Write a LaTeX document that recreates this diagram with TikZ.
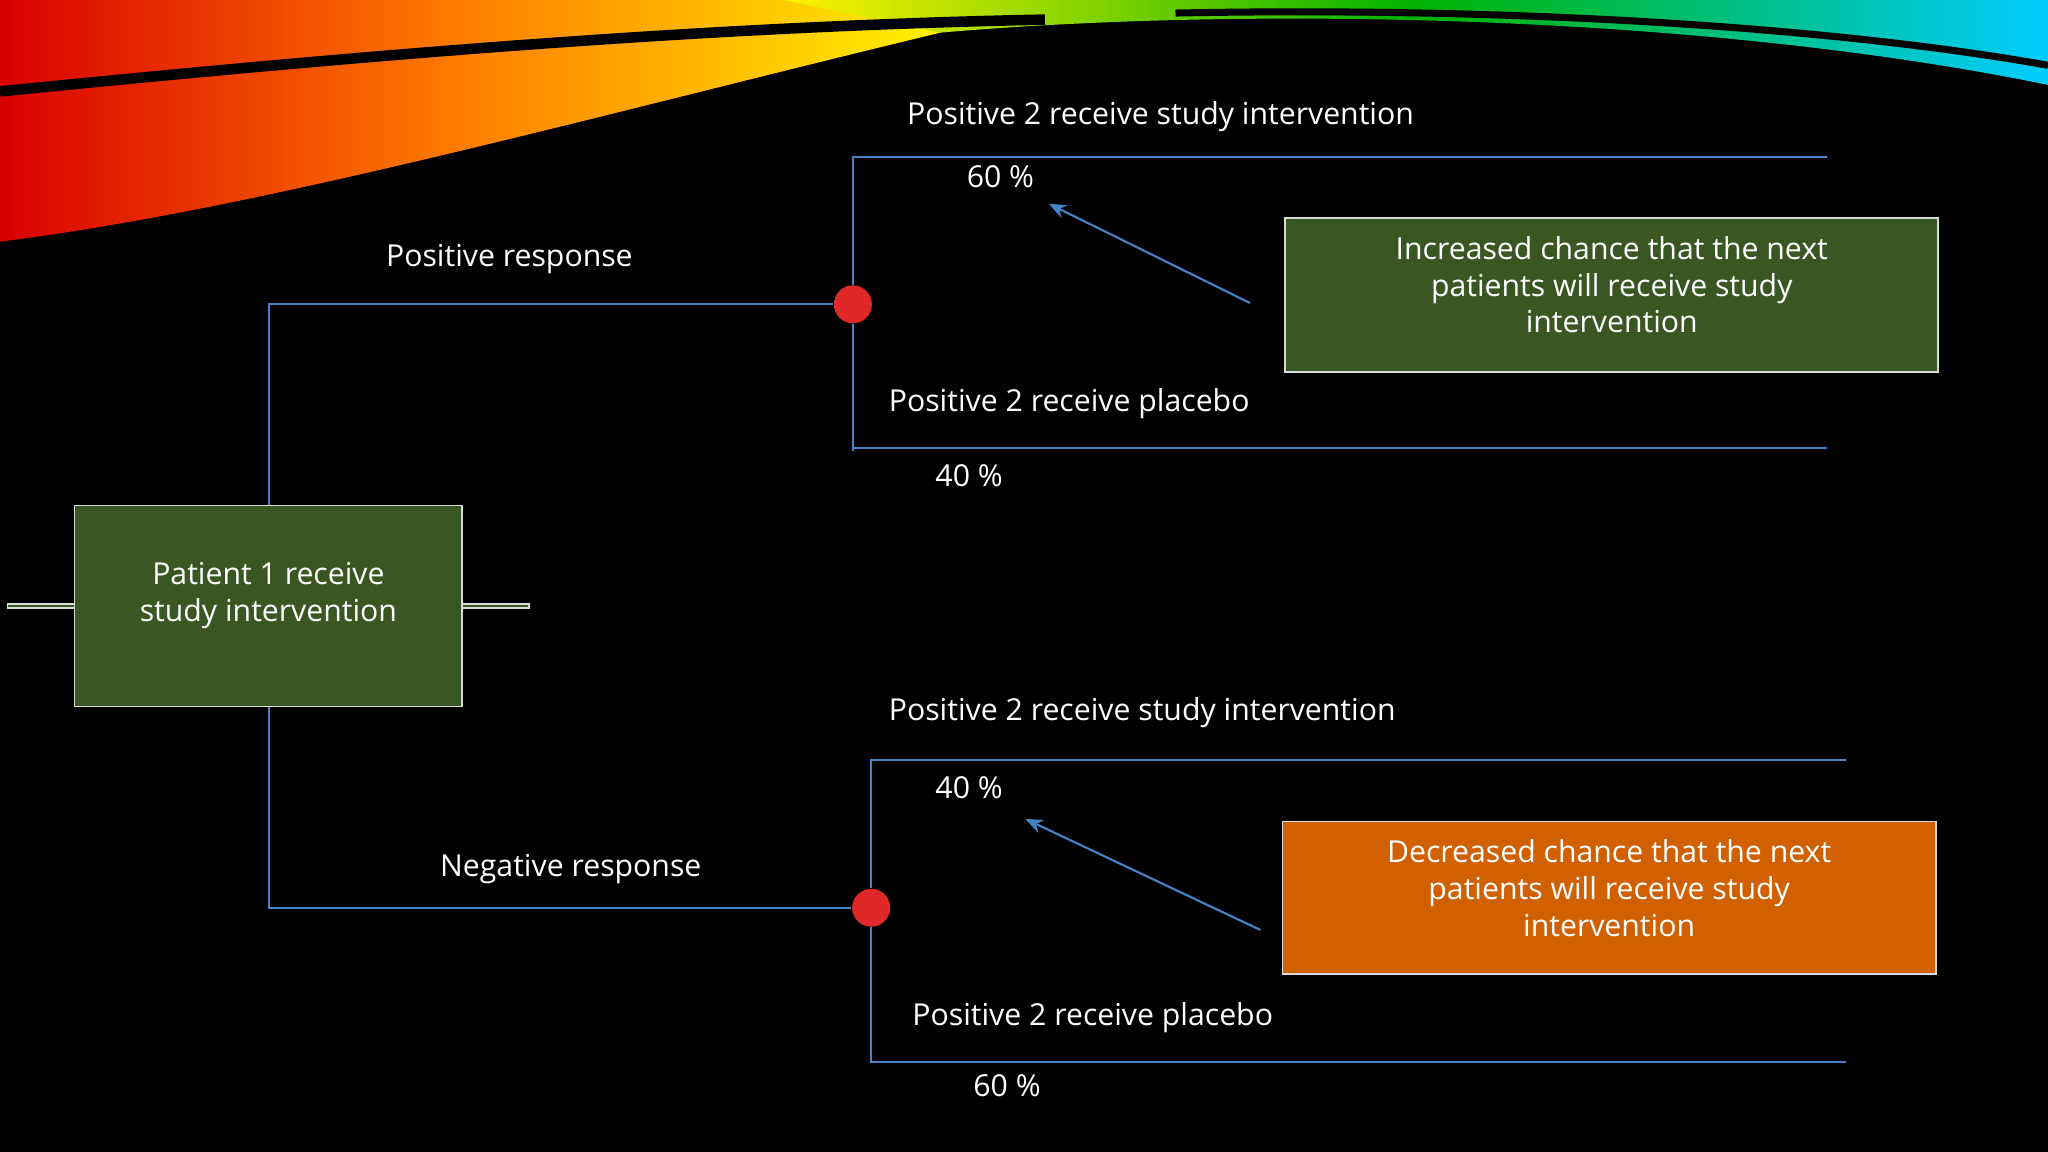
\documentclass[tikz,border=0pt]{standalone}
\usepackage{fontspec}
\setmainfont{Open Sans}
\usetikzlibrary{arrows.meta}
\definecolor{ln}{RGB}{70,130,200}
\definecolor{gbox}{RGB}{56,87,35}
\definecolor{obox}{RGB}{208,96,0}
\definecolor{dotred}{RGB}{225,40,40}
\tikzset{
 conn/.style={draw=ln,line width=0.6pt},
 lbl/.style={text=white,font=\fontsize{8.6}{10}\selectfont,inner sep=0pt},
 box/.style={draw=white!85!black,line width=0.5pt,text=white,font=\fontsize{8.6}{10.5}\selectfont,align=center,inner sep=0pt},
 dotn/.style={circle,fill=dotred,minimum size=0.38cm,inner sep=0pt},
 arr/.style={draw=ln,line width=0.6pt,-{Stealth[length=5pt,width=4pt]}}
}
\begin{document}
\begin{tikzpicture}[x=0.013061cm,y=-0.013061cm]
\fill[black] (0,0) rectangle (1568,882);
\useasboundingbox (0,0) rectangle (1568,882);
% swoosh
\shade[left color=red!85!black,right color=yellow!90!orange,middle color=orange]
 (0,0) -- (0,185) .. controls (200,160) and (450,90) .. (720,25) -- (720,0) -- cycle;
\shade[left color=yellow!90!orange,right color=cyan!80!blue,middle color=green!70!black]
 (600,0) -- (720,25) .. controls (950,5) and (1300,10) .. (1568,65) -- (1568,0) -- cycle;
\draw[black,line width=3pt] (0,70) .. controls (300,40) and (550,20) .. (800,15);
\draw[black,line width=2pt] (900,10) .. controls (1150,5) and (1400,20) .. (1568,50);
% nodes
\node[box,fill=gbox,minimum width=297\pgflinewidth] (p1) at (205.5,464) {};
\path[box,fill=gbox] (57,387) rectangle (354,541);
\node[lbl,align=center,font=\fontsize{8.6}{10.5}\selectfont] (pt) at (205.5,456) {Patient 1 receive\\study intervention};
\coordinate (ptop) at (206,387);
\coordinate (pbot) at (206,541);
\coordinate (c1) at (206,233);
\coordinate (c2) at (206,695);
\node[dotn] (d1) at (653,233) {};
\node[dotn] (d2) at (667,695) {};
\coordinate (a1) at (653,120); \coordinate (a2) at (1399,120);
\coordinate (b1) at (653,345); \coordinate (b0) at (653,343); \coordinate (b2) at (1399,343);
\coordinate (e1) at (667,582); \coordinate (e2) at (1413,582);
\coordinate (f1) at (667,813); \coordinate (f0) at (667,810); \coordinate (f2) at (1413,813);
\draw[conn] (ptop) -- (c1) -- (d1);
\draw[conn] (pbot) -- (c2) -- (d2);
\draw[conn] (a2) -- (a1) -- (d1) -- (b1);
\draw[conn] (b0) -- (b2);
\draw[conn] (e2) -- (e1) -- (d2) -- (f0) -- (f1) -- (f2);
% labels
\node[lbl] (pr) at (390,198) {Positive response};
\node[lbl] (nr) at (437,665) {Negative response};
\node[lbl,anchor=west] (t1) at (694,89) {Positive 2 receive study intervention};
\node[lbl] (t1p) at (766,135) {60 \%};
\node[lbl,anchor=west] (t2) at (680,309) {Positive 2 receive placebo};
\node[lbl] (t2p) at (742,364) {40 \%};
\node[lbl,anchor=west] (t3) at (680,546) {Positive 2 receive study intervention};
\node[lbl] (t3p) at (742,603) {40 \%};
\node[lbl,anchor=west] (t4) at (698,779) {Positive 2 receive placebo};
\node[lbl] (t4p) at (771,831) {60 \%};
% info boxes
\path[box,fill=gbox] (984,167) rectangle (1484,285);
\node[lbl,align=center,font=\fontsize{8.6}{10.5}\selectfont] (g) at (1234,218) {Increased chance that the next\\patients will receive study\\intervention};
\path[box,fill=obox] (982,629) rectangle (1482,746);
\node[lbl,align=center,font=\fontsize{8.6}{10.5}\selectfont] (o) at (1232,680) {Decreased chance that the next\\patients will receive study\\intervention};
\coordinate (ar1s) at (957,232); \coordinate (ar1e) at (803,156);
\coordinate (ar2s) at (965,712); \coordinate (ar2e) at (785,627);
\draw[arr] (ar1s) -- (ar1e);
\draw[arr] (ar2s) -- (ar2e);
\end{tikzpicture}
\end{document}
